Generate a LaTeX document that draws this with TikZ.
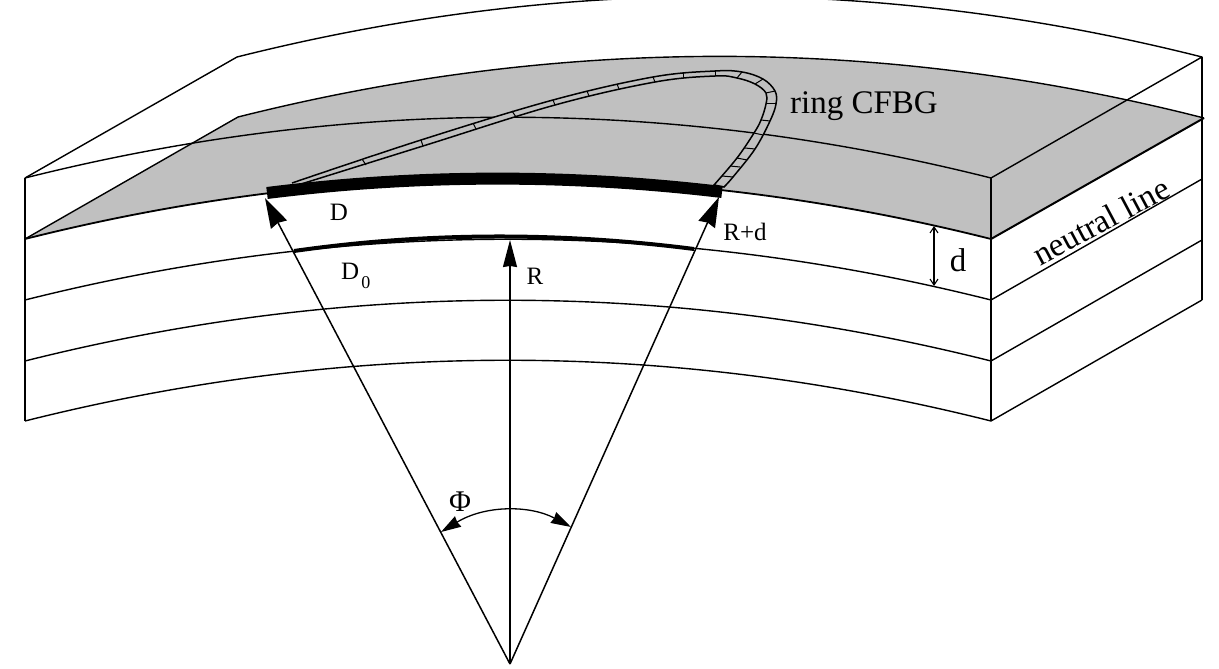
\documentclass[tikz,border=0pt]{standalone}
\usepackage{fontspec}
\setmainfont{Liberation Serif}
\usetikzlibrary{arrows.meta}
\definecolor{surf}{HTML}{C0C0C0}
\tikzset{
  edge/.style={line width=1.4pt,line join=round},
  ray/.style={line width=1.5pt,-{Stealth[length=30pt,width=18pt,inset=2pt]}},
  lab/.style={inner sep=0pt,font=\fontsize{25}{25}\selectfont},
  biglab/.style={inner sep=0pt,font=\fontsize{33}{33}\selectfont}
}
\begin{document}
\begin{tikzpicture}[x=1pt,y=-1pt]
\useasboundingbox (0,0) rectangle (1219,669);
\clip (0,0) rectangle (1219,669);

\coordinate (O) at (510,664);
\coordinate (FL) at (25,239);
\coordinate (FR) at (991,239);
\coordinate (BL) at (238,117);
\coordinate (BR) at (1204,118);
\coordinate (TFL) at (25,178);
\coordinate (TFR) at (991,178);
\coordinate (TBL) at (237,57);
\coordinate (TBR) at (1202,57);
\coordinate (EFR) at (991,421);
\coordinate (EBR) at (1202,300);
\coordinate (DL) at (265,198);
\coordinate (DR) at (719,197);
\coordinate (DLb) at (267,193);
\coordinate (DRb) at (722,192);
\coordinate (NM) at (510,240);
\coordinate (AL) at (441,532);
\coordinate (AR) at (571,527);
\coordinate (dT) at (934,226);
\coordinate (dB) at (934,286);

% grey plane
\fill[surf] (FL) -- (BL) .. controls (560,36) and (882,36) .. (BR) -- (FR)
  .. controls (669,158) and (347,158) .. (FL) -- cycle;
\draw[edge] (FL) -- (BL) .. controls (560,36) and (882,36) .. (BR);
\draw[line width=2pt] (FR) -- (BR);
\draw[line width=1.8pt] (FL) .. controls (347,158) and (669,158) .. (FR);

% block
\draw[edge] (TFL) -- (TBL) .. controls (559,-24) and (881,-24) .. (TBR) -- (TFR);
\draw[edge] (TFL) .. controls (347,97) and (669,97) .. (TFR);
\draw[edge] (TFL) -- (25,421);
\draw[edge] (TFR) -- (EFR);
\draw[edge] (TBR) -- (EBR);
\foreach\y in{300,361,421}{
  \draw[edge] (25,\y) .. controls (347,{\y-81}) and (669,{\y-81}) .. (991,\y) -- (1202,{\y-121});
}

% ring
\fill[surf,draw=black,line width=1.5pt,smooth,tension=0.6] plot coordinates {(292,183)(421,140)(553,100)(653,77)(715,71)(742,72)(763,79)(775,91)(776,104)(770,121)(755,149)(733,177)(724,187)}
  -- plot coordinates {(714,185)(737,158)(754,133)(761,120)(766,104)(766,93)(755,84)(737,78)(715,76)(655,82)(555,105)(423,146)(298,185)};
\foreach\xa/\ya/\xb/\yb in{362/159/366/165,421/140/423/146,473/123/476/129,512/111/516/117,553/100/555/105,587/91/589/96,617/84/619/89,653/77/655/82,683/73/683/78,715/71/715/76,742/72/737/78,763/79/755/84,775/91/766/93,776/104/766/104,770/121/761/120,763/135/754/133,755/149/745/148,747/160/737/158,740/167/730/166,733/177/722/176}{
  \draw[line width=1pt] (\xa,\ya) -- (\xb,\yb);
}

% D and D0
\draw[line width=12pt] (DLb) .. controls (419,174) and (570,174) .. (DRb);
\draw[line width=4pt] (294,251) .. controls (427,232) and (561,232) .. (694,249);

% rays
\draw[ray] (O) -- (DL);
\draw[ray] (O) -- (DR);
\draw[line width=1.5pt,-{Stealth[length=27pt,width=14pt,inset=1pt]}] (O) -- (NM);
\draw[line width=1.3pt,{Stealth[length=20pt,width=12pt,inset=1pt]}-{Stealth[length=20pt,width=12pt,inset=1pt]}] (AL) .. controls (485,505) and (530,505) .. (AR);
\draw[line width=1.1pt,{Straight Barb[length=6pt,width=8pt]}-{Straight Barb[length=6pt,width=8pt]}] (dT) -- (dB);

% labels
\node[biglab] (ring) at (864,106) {ring CFBG};
\node[biglab,rotate=28,anchor=base] (neutral) at (1106,231) {neutral line};
\node[biglab] (dlab) at (958,260) {d};
\node[lab] (Dlab) at (339,212) {D};
\node[lab,anchor=base west] (D0lab) at (341,279) {D\hspace{2pt}\raisebox{-9pt}{\fontsize{18}{18}\selectfont 0}};
\node[lab] (Rlab) at (535,276) {R};
\node[lab] (Rdlab) at (745,232) {R+d};
\node[lab,font=\fontsize{30}{30}\selectfont] (phi) at (460,502) {Φ};
\end{tikzpicture}
\end{document}
